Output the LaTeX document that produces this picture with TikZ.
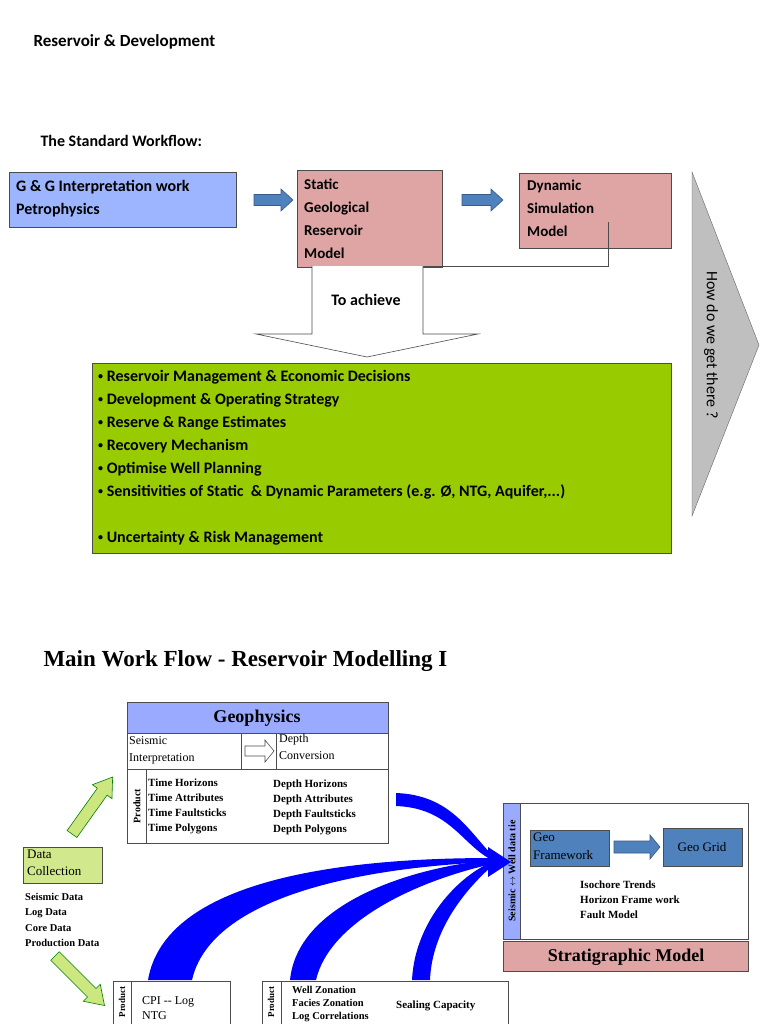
\documentclass[tikz,border=0pt]{standalone}
\usepackage{fontspec}
\setmainfont{Carlito}
\newfontfamily\tms{Liberation Serif}
\definecolor{gblue}{HTML}{9DB5FF}
\definecolor{pinkb}{HTML}{DFA5A5}
\definecolor{arrb}{HTML}{4F81BD}
\definecolor{lime}{HTML}{99CC00}
\definecolor{lgreen}{HTML}{CCE680}
\definecolor{hblue}{HTML}{99AAFF}
\tikzset{pics/blockarrow/.style n args={4}{code={%
  \path[pic actions] (0,#2) -- (#1-#4,#2) -- (#1-#4,#3) -- (#1,0) -- (#1-#4,-#3) -- (#1-#4,-#2) -- (0,-#2) -- cycle;}}}
\newcommand{\bul}{{\normalsize\raisebox{2pt}{•}}}
\begin{document}
\begin{tikzpicture}[x=1pt,y=-1pt,
  box/.style={draw=black!70,line width=0.7pt},
  bt/.style={font=\fontsize{15}{23}\selectfont\bfseries,anchor=north west,align=left,inner sep=0pt},
  tm/.style={font=\tms\fontsize{12}{17}\selectfont},
  tmb/.style={font=\tms\bfseries\fontsize{11}{15}\selectfont,align=left,anchor=north west,inner sep=0pt},
  barrow/.style={fill=arrb,draw=arrb!70!black,line width=0.6pt},
  garrow/.style={fill=lgreen,draw=green!50!black,line width=0.6pt},
  band/.style={fill=blue,draw=none}]
\useasboundingbox (0,0) rectangle (768,1024);
\fill[white] (0,0) rectangle (768,1024);
% top part
\node[anchor=west,font=\fontsize{17}{18}\selectfont\bfseries] (t1) at (30,42) {Reservoir \& Development};
\node[anchor=west,font=\fontsize{16}{18}\selectfont\bfseries] (t2) at (37,141) {The Standard Workflow:};
\path[box,fill=gblue] (9,172) rectangle (236,227);
\node[bt,font=\fontsize{16}{23}\selectfont\bfseries] (gg) at (16,180) {G \& G Interpretation work\\Petrophysics};
\path[box,fill=pinkb] (297,170) rectangle (442,267);
\node[bt] (st) at (304,179) {Static\\Geological\\Reservoir\\Model};
\path[box,fill=pinkb] (519,173) rectangle (671,248);
\node[bt] (dy) at (527,180) {Dynamic\\Simulation\\Model};
\pic[barrow] (a1) at (254,200) {blockarrow={39}{5.5}{11}{12}};
\pic[barrow] (a2) at (462,200) {blockarrow={41}{5.5}{11}{12}};
\draw[black!70,line width=0.6pt] (608,222) -- (608,266) -- (312,266);
\draw[black!70,line width=0.6pt,fill=white] (312,266) -- (312,334) -- (256,334) -- (367,357) -- (478,334) -- (423,334) -- (423,266);
\node[font=\fontsize{16}{18}\selectfont\bfseries] (ach) at (366,300) {To achieve};
\path[box,fill=lime] (92,363) rectangle (671,553);
\node[anchor=north west,inner sep=0pt,align=left,font=\fontsize{16}{23}\selectfont\bfseries] (list) at (98,370) {%
\bul\ Reservoir Management \& Economic Decisions\\
\bul\ Development \& Operating Strategy\\
\bul\ Reserve \& Range Estimates\\
\bul\ Recovery Mechanism\\
\bul\ Optimise Well Planning\\
\bul\ Sensitivities of Static \ \& Dynamic Parameters (e.g. Ø, NTG, Aquifer,...)\\[23pt]
\bul\ Uncertainty \& Risk Management};
\draw[black!60,fill=black!25] (692,172) -- (759,345) -- (692,516) -- cycle;
\node[rotate=-90,font=\fontsize{16}{18}\selectfont] (how) at (711,345) {How do we get there ?};
% bottom part
\node[anchor=west,font=\tms\bfseries\fontsize{23}{24}\selectfont] (t3) at (40,661) {Main Work Flow - Reservoir Modelling I};
\path[box,fill=hblue] (127,702) rectangle (388,733);
\node[font=\tms\bfseries\fontsize{18}{20}\selectfont] (geo) at (257,718) {Geophysics};
\path[box,fill=white] (127,733) rectangle (241,769);
\path[box,fill=white] (276,733) rectangle (388,769);
\node[tm,anchor=north west,align=left,inner sep=0pt] (si) at (129,736) {Seismic\\Interpretation};
\node[tm,anchor=north west,align=left,inner sep=0pt] (dc) at (279,734) {Depth\\Conversion};
\pic[fill=white,draw=black!70,line width=0.6pt] (ha) at (245,751) {blockarrow={29}{5}{11}{9}};
\path[box,fill=white] (127,769) rectangle (388,843);
\path[box,fill=white] (127,769) rectangle (146,843);
\node[rotate=90,font=\tms\bfseries\fontsize{10}{10}\selectfont] (p1) at (137,806) {Product};
\node[tmb] (th) at (148,779) {Time Horizons\\Time Attributes\\Time Faultsticks\\Time Polygons};
\node[tmb] (dh) at (273,780) {Depth Horizons\\Depth Attributes\\Depth Faultsticks\\Depth Polygons};
% data collection
\path[box,fill=lgreen!90!white] (23,847) rectangle (102,883);
\node[tmb,font=\tms\fontsize{13}{17}\selectfont] (dcl) at (27,850) {Data\\Collection};
\node[tmb,font=\tms\bfseries\fontsize{10.5}{15.5}\selectfont] (dl) at (25,893) {Seismic Data\\Log Data\\Core Data\\Production Data};
\pic[garrow,rotate=54.5] (g1) at (72,834) {blockarrow={70}{6}{12}{18}};
\pic[garrow,rotate=-45] (g2) at (55,956) {blockarrow={70}{6}{12}{18}};
% stratigraphic model
\path[box,fill=white] (503,803) rectangle (748,939);
\path[box,fill=hblue] (503,803) rectangle (520,939);
\node[rotate=90,font=\tms\bfseries\fontsize{10}{10}\selectfont] (sw) at (512,871) {Seismic $\leftrightarrow$ Well data tie};
\path[box,fill=arrb] (530,830) rectangle (609,866);
\path[box,fill=arrb] (663,828) rectangle (742,866);
\node[tm,anchor=north west,align=left,inner sep=0pt,font=\tms\fontsize{13}{18}\selectfont] (gf) at (533,833) {Geo\\Framework};
\node[tm,font=\tms\fontsize{13}{18}\selectfont] (gg2) at (702,847) {Geo Grid};
\pic[barrow] (sa) at (614,847) {blockarrow={46}{6}{12}{10}};
\node[tmb] (iso) at (580,881) {Isochore Trends\\Horizon Frame work\\Fault Model};
\path[box,fill=pinkb] (503,941) rectangle (748,971);
\node[font=\tms\bfseries\fontsize{18}{20}\selectfont] (sm) at (626,957) {Stratigraphic Model};
% bottom boxes
\path[box,fill=white] (113,981) rectangle (230,1030);
\path[box,fill=white] (113,981) rectangle (131,1030);
\node[rotate=90,font=\tms\bfseries\fontsize{9}{10}\selectfont] (p2) at (122,1002) {Product};
\node[tmb,font=\tms\fontsize{12}{15}\selectfont] (cpi) at (142,996) {CPI -- Log\\NTG};
\path[box,fill=white] (262,981) rectangle (508,1030);
\path[box,fill=white] (262,981) rectangle (281,1030);
\node[rotate=90,font=\tms\bfseries\fontsize{9}{10}\selectfont] (p3) at (271,1002) {Product};
\node[tmb,font=\tms\bfseries\fontsize{10.5}{13}\selectfont] (wz) at (292,986) {Well Zonation\\Facies Zonation\\Log Correlations};
\node[tmb,font=\tms\bfseries\fontsize{11}{15}\selectfont] (sc) at (396,1001) {Sealing Capacity};
% blue bands
\fill[band] (396,793) .. controls (450,795) and (468,830) .. (492,855) -- (492,860) .. controls (462,845) and (450,808) .. (396,806) -- cycle;
\fill[band] (148,980) .. controls (165,880) and (340,858) .. (492,858) -- (492,862) .. controls (350,868) and (210,900) .. (192,980) -- cycle;
\fill[band] (290,980) .. controls (298,900) and (420,866) .. (492,860) -- (492,864) .. controls (420,880) and (330,920) .. (316,980) -- cycle;
\fill[band] (412,980) .. controls (415,920) and (460,875) .. (492,862) -- (492,866) .. controls (465,890) and (432,930) .. (430,980) -- cycle;
\fill[band] (488,847) -- (511,862) -- (488,877) -- cycle;
\end{tikzpicture}
\end{document}
